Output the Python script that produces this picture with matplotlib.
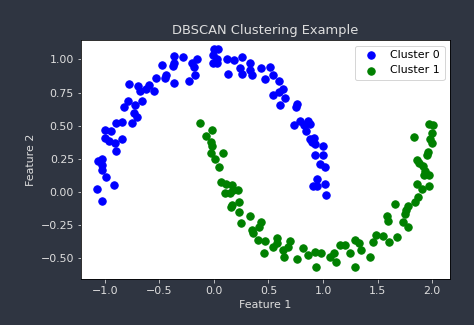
import numpy as np
import matplotlib
matplotlib.use('Agg')
import matplotlib.pyplot as plt

# cluster 0 (upper moon)
x0 = [-0.364, -0.281, -0.159, -0.199, -0.364, -0.373, -0.474, -0.180, -0.174,
      -0.443, -0.450, -0.535, -0.364, -0.229, -0.780, -0.694, -0.596, -0.627,
      -0.679, -0.547, -0.664, -0.792, -0.725, -0.829, -0.731, -0.709, -0.841,
      -0.902, -0.749, -1.000, -0.945, -1.000, -0.847, -0.963, -0.908, -0.896,
      -1.067, -1.024, -1.031, -1.024, -0.994, -0.914, -1.073, -1.024,
      0.000, 0.040, -0.012, 0.024, -0.012, 0.031, 0.116, 0.187, 0.254, 0.330,
      0.239, 0.254, 0.330, 0.346, 0.131, 0.428, 0.514, 0.538, 0.468, 0.599,
      0.630, 0.599, 0.544, 0.651, 0.606, 0.758, 0.749, 0.789, 0.865, 0.734,
      0.826, 0.881, 0.844, 0.881, 0.917, 0.896, 0.927, 0.997, 0.927, 0.997,
      0.972, 1.018, 0.948, 0.905, 0.948, 1.018, 1.028]
y0 = [1.026, 1.016, 1.006, 0.976, 0.976, 0.948, 0.956, 0.943, 0.886,
      0.881, 0.860, 0.860, 0.825, 0.835, 0.815, 0.800, 0.805, 0.780,
      0.760, 0.760, 0.684, 0.684, 0.654, 0.639, 0.599, 0.564, 0.528,
      0.523, 0.518, 0.468, 0.458, 0.408, 0.397, 0.382, 0.372, 0.307,
      0.236, 0.247, 0.206, 0.166, 0.111, 0.055, 0.025, -0.065,
      1.077, 1.077, 1.031, 1.006, 0.976, 0.976, 1.001, 0.994, 1.019, 0.976,
      0.936, 0.893, 0.918, 0.881, 0.893, 0.936, 0.943, 0.886, 0.850, 0.835,
      0.780, 0.755, 0.735, 0.709, 0.659, 0.667, 0.642, 0.533, 0.538, 0.508,
      0.508, 0.516, 0.458, 0.403, 0.408, 0.377, 0.365, 0.347, 0.277, 0.277,
      0.214, 0.189, 0.101, 0.045, 0.045, 0.063, -0.025]

# cluster 1 (lower moon)
x1 = [-0.128, -0.021, -0.073, -0.031, -0.021, 0.080, -0.031, 0.009, 0.049,
      0.061, 0.110, 0.162, 0.101, 0.177, 0.223, 0.147, 0.232, 0.162, 0.153,
      0.232, 0.330, 0.245, 0.428, 0.416, 0.346, 0.355, 0.407, 0.468, 0.581,
      0.581, 0.544, 0.459, 0.697, 0.682, 0.642, 0.630, 0.758, 0.820,
      1.976, 2.012, 1.997, 1.835, 1.982, 1.997, 1.966, 1.951, 1.865, 1.884,
      1.914, 1.936, 1.976, 1.927, 1.865, 1.976, 1.905, 1.875, 1.844, 1.661,
      1.783, 1.761, 1.752, 1.590, 1.599, 1.731, 1.783, 1.486, 1.547, 1.676,
      1.456, 1.609, 1.294, 1.333, 1.156, 1.202, 1.346, 1.248, 1.101, 1.064,
      0.979, 0.927, 1.431, 1.294, 1.119, 0.936, 0.865]
y1 = [0.523, 0.468, 0.423, 0.380, 0.347, 0.292, 0.292, 0.247, 0.186,
      0.078, 0.060, 0.053, -0.005, 0.015, 0.015, -0.005, -0.073, -0.098, -0.116,
      -0.148, -0.181, -0.236, -0.224, -0.262, -0.287, -0.307, -0.362, -0.367, -0.350,
      -0.387, -0.413, -0.458, -0.367, -0.413, -0.488, -0.438, -0.508, -0.425,
      0.513, 0.503, 0.443, 0.413, 0.397, 0.367, 0.304, 0.279, 0.242, 0.216,
      0.196, 0.161, 0.128, 0.128, 0.060, 0.045, 0.020, -0.040, -0.073, -0.091,
      -0.106, -0.136, -0.166, -0.181, -0.216, -0.224, -0.267, -0.325, -0.332, -0.342,
      -0.375, -0.375, -0.362, -0.387, -0.400, -0.400, -0.438, -0.463, -0.458, -0.488,
      -0.458, -0.450, -0.488, -0.564, -0.526, -0.564, -0.475]

bg = '#2f3541'
fg = '#dedede'

fig = plt.figure(figsize=(474 / 72, 325 / 72), dpi=72, facecolor=bg)
ax = fig.add_axes([81 / 474, 46 / 325, 369 / 474, 239 / 325])
ax.set_facecolor('white')

ax.scatter(x0, y0, c='blue', s=55, label='Cluster 0')
ax.scatter(x1, y1, c='green', s=55, label='Cluster 1')

ax.set_xlim(-1.22, 2.165)
ax.set_ylim(-0.657, 1.147)
ax.set_xticks(np.arange(-1.0, 2.01, 0.5))
ax.set_yticks(np.arange(-0.5, 1.01, 0.25))
ax.tick_params(colors=fg, labelsize=11)

ax.set_title('DBSCAN Clustering Example', color=fg, fontsize=13)
ax.set_xlabel('Feature 1', color=fg, fontsize=11)
ax.set_ylabel('Feature 2', color=fg, fontsize=11)
ax.legend(loc='upper right', fontsize=11)

fig.savefig('out.png', dpi=72, facecolor=bg)
